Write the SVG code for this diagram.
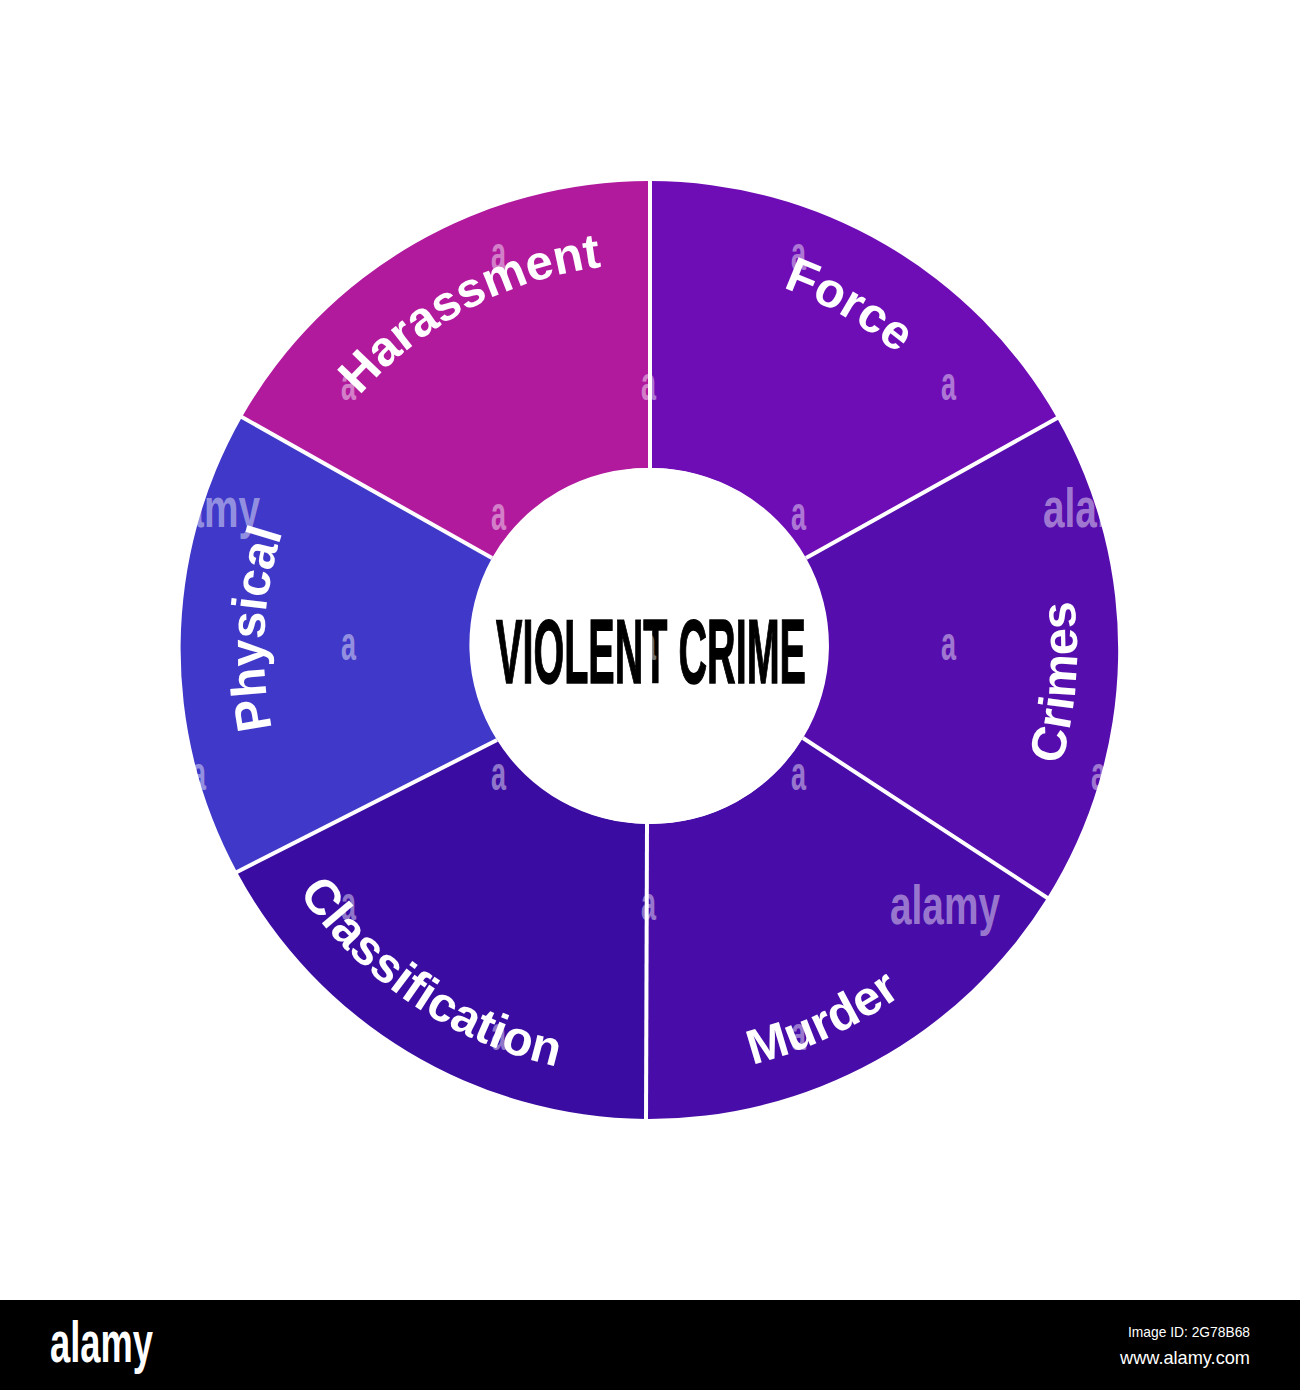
<svg xmlns="http://www.w3.org/2000/svg" width="1300" height="1390" viewBox="0 0 1300 1390">
<style>
.lbl{font-family:"Liberation Sans",Arial,sans-serif;font-weight:bold;font-size:49px;fill:#fff}
.sep{stroke:#fff;stroke-width:4;fill:none}
.wm{font-family:"Liberation Sans",Arial,sans-serif;font-weight:bold;fill:#fff;fill-opacity:0.45}
.ftr{font-family:"Liberation Sans",Arial,sans-serif;fill:#fff}
</style>
<defs>
<path id="cw386" d="M650,1036 A386,386 0 0 1 650,264 A386,386 0 0 1 650,1036"/>
<path id="ccw422" d="M650,228 A422,422 0 0 0 650,1072 A422,422 0 0 0 650,228"/>
<path id="ccw427" d="M650,223 A427,427 0 0 0 650,1077 A427,427 0 0 0 650,223"/>
</defs>
<rect width="1300" height="1390" fill="#fff"/>
<g id="seg-harassment">
<path fill="#B21A9E" d="M492,558 L242,417 A469,469 0 0 1 650,181 L650,468 A178,178 0 0 0 492,558 Z"/>
<text class="lbl" transform="rotate(-28 650 650)"><textPath href="#cw386" startOffset="50%" text-anchor="middle">Harassment</textPath></text>
</g>
<g id="seg-force">
<path fill="#6E0DB5" d="M650,468 L650,181 A469,469 0 0 1 1057,418 L806,558 A178,178 0 0 0 650,468 Z"/>
<text class="lbl" transform="rotate(30 650 650)"><textPath href="#cw386" startOffset="50%" text-anchor="middle">Force</textPath></text>
</g>
<g id="seg-crimes">
<path fill="#560DAD" d="M806,558 L1057,418 A469,469 0 0 1 1047,898 L803,738 A178,178 0 0 0 806,558 Z"/>
<text class="lbl" transform="rotate(-85.5 650 650)"><textPath href="#ccw427" startOffset="50%" text-anchor="middle">Crimes</textPath></text>
</g>
<g id="seg-murder">
<path fill="#480DA8" d="M803,738 L1047,898 A469,469 0 0 1 646,1119 L647,824 A178,178 0 0 0 803,738 Z"/>
<text class="lbl" transform="rotate(-25 650 650)"><textPath href="#ccw427" startOffset="50%" text-anchor="middle">Murder</textPath></text>
</g>
<g id="seg-classification">
<path fill="#3A0CA2" d="M647,824 L646,1119 A469,469 0 0 1 237,872 L497,740 A178,178 0 0 0 647,824 Z"/>
<text class="lbl" transform="rotate(34 650 650)"><textPath href="#ccw427" startOffset="50%" text-anchor="middle">Classification</textPath></text>
</g>
<g id="seg-physical">
<path fill="#3F38C8" d="M497,740 L237,872 A469,469 0 0 1 242,417 L492,558 A178,178 0 0 0 497,740 Z"/>
<text class="lbl" transform="rotate(-87 650 650)"><textPath href="#cw386" startOffset="50%" text-anchor="middle">Physical</textPath></text>
</g>
<g id="separators">
<line class="sep" x1="650" y1="468" x2="650" y2="178"/>
<line class="sep" x1="806" y1="558" x2="1059" y2="417"/>
<line class="sep" x1="803" y1="738" x2="1049" y2="899"/>
<line class="sep" x1="647" y1="824" x2="646" y2="1122"/>
<line class="sep" x1="497" y1="740" x2="235" y2="873"/>
<line class="sep" x1="492" y1="558" x2="240" y2="416"/>
</g>
<g id="center">
<circle cx="650" cy="646" r="178" fill="#fff"/>
<text x="651" y="683" text-anchor="middle" font-family="Liberation Sans, Arial, sans-serif" font-weight="bold" font-size="91" fill="#000" stroke="#000" stroke-width="1.5" textLength="310" lengthAdjust="spacingAndGlyphs">VIOLENT CRIME</text>
</g>
<g id="watermark">
<g font-size="48">
<text class="wm" x="491" y="270" textLength="15" lengthAdjust="spacingAndGlyphs">a</text>
<text class="wm" x="791" y="270" textLength="15" lengthAdjust="spacingAndGlyphs">a</text>
<text class="wm" x="341" y="400" textLength="15" lengthAdjust="spacingAndGlyphs">a</text>
<text class="wm" x="641" y="400" textLength="15" lengthAdjust="spacingAndGlyphs">a</text>
<text class="wm" x="941" y="400" textLength="15" lengthAdjust="spacingAndGlyphs">a</text>
<text class="wm" x="491" y="530" textLength="15" lengthAdjust="spacingAndGlyphs">a</text>
<text class="wm" x="791" y="530" textLength="15" lengthAdjust="spacingAndGlyphs">a</text>
<text class="wm" x="341" y="660" textLength="15" lengthAdjust="spacingAndGlyphs">a</text>
<text class="wm" x="641" y="660" textLength="15" lengthAdjust="spacingAndGlyphs">a</text>
<text class="wm" x="941" y="660" textLength="15" lengthAdjust="spacingAndGlyphs">a</text>
<text class="wm" x="191" y="790" textLength="15" lengthAdjust="spacingAndGlyphs">a</text>
<text class="wm" x="491" y="790" textLength="15" lengthAdjust="spacingAndGlyphs">a</text>
<text class="wm" x="791" y="790" textLength="15" lengthAdjust="spacingAndGlyphs">a</text>
<text class="wm" x="1091" y="790" textLength="15" lengthAdjust="spacingAndGlyphs">a</text>
<text class="wm" x="341" y="920" textLength="15" lengthAdjust="spacingAndGlyphs">a</text>
<text class="wm" x="641" y="920" textLength="15" lengthAdjust="spacingAndGlyphs">a</text>
<text class="wm" x="491" y="1050" textLength="15" lengthAdjust="spacingAndGlyphs">a</text>
<text class="wm" x="791" y="1050" textLength="15" lengthAdjust="spacingAndGlyphs">a</text>
</g>
<g font-size="56">
<text class="wm" x="150" y="527" textLength="110" lengthAdjust="spacingAndGlyphs">alamy</text>
<text class="wm" x="1043" y="527" textLength="110" lengthAdjust="spacingAndGlyphs">alamy</text>
<text class="wm" x="890" y="924" textLength="110" lengthAdjust="spacingAndGlyphs">alamy</text>
</g>
</g>
<g id="footer">
<rect x="0" y="1300" width="1300" height="90" fill="#000"/>
<text class="ftr" x="50" y="1362" font-size="58" font-weight="bold" textLength="103" lengthAdjust="spacingAndGlyphs">alamy</text>
<text class="ftr" x="1250" y="1337" font-size="15" text-anchor="end" fill="#ddd" textLength="122" lengthAdjust="spacingAndGlyphs">Image ID: 2G78B68</text>
<text class="ftr" x="1250" y="1364" font-size="19" text-anchor="end" textLength="130" lengthAdjust="spacingAndGlyphs">www.alamy.com</text>
</g>
</svg>
